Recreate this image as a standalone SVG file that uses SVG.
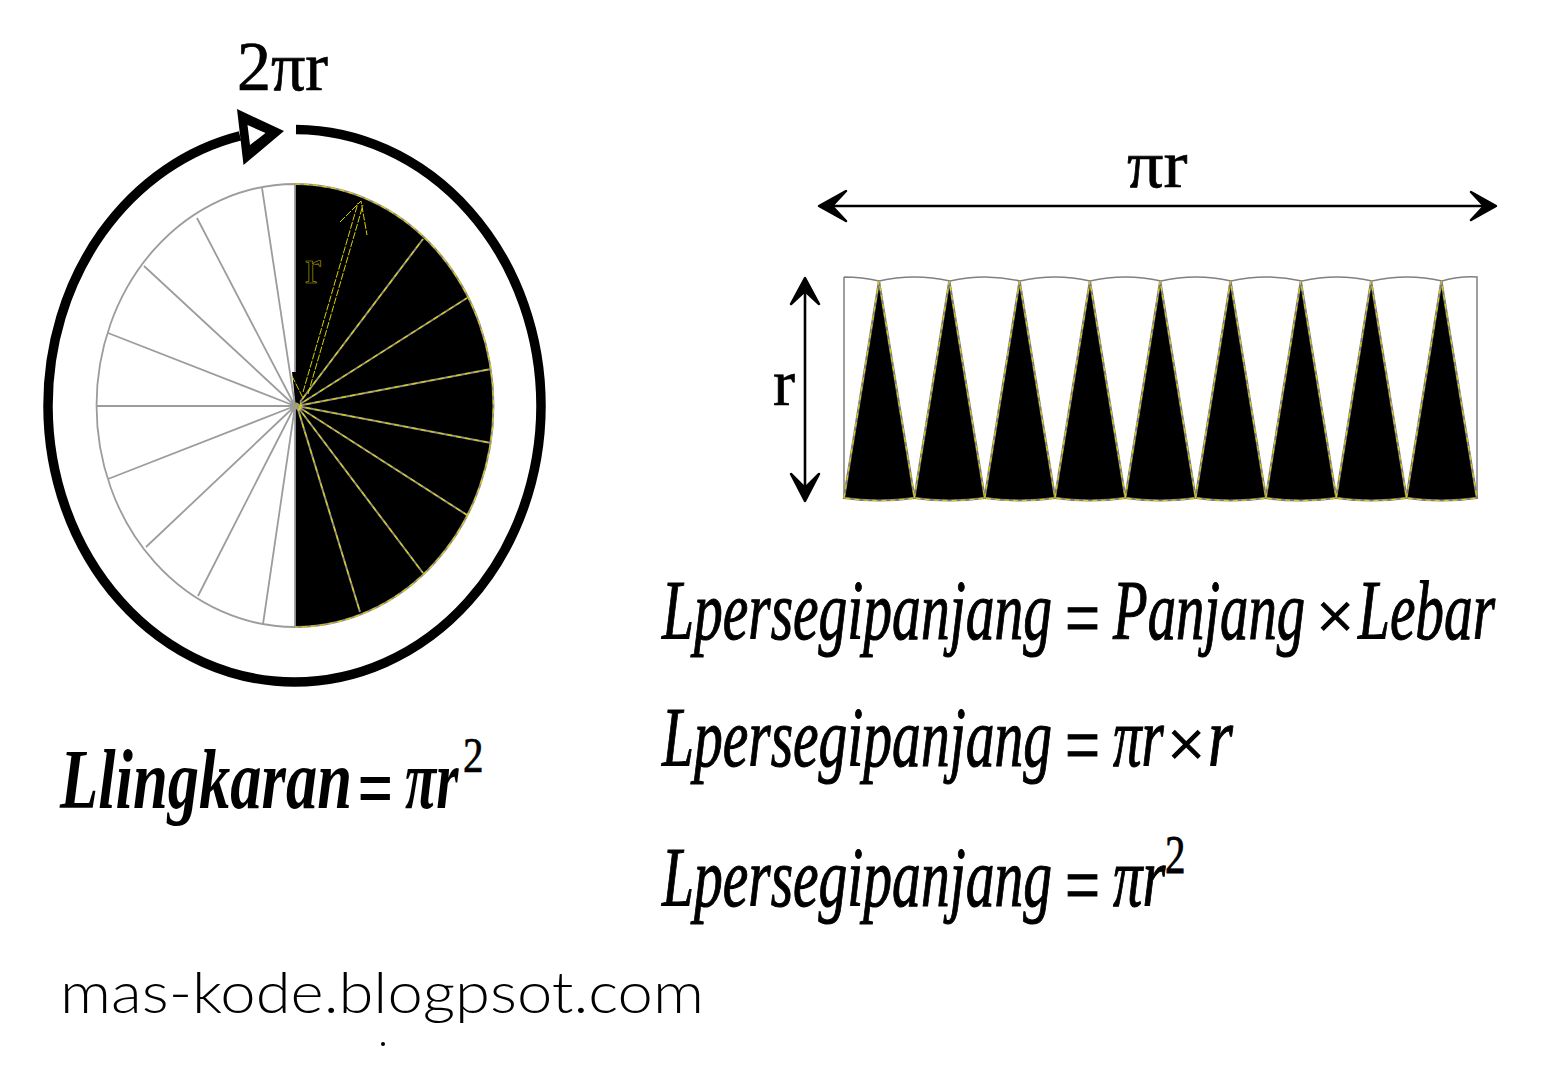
<svg xmlns="http://www.w3.org/2000/svg" width="1548" height="1068" viewBox="0 0 1548 1068">
<style>
text{font-family:"Liberation Serif","Times New Roman",serif;fill:#000}
.f{font-style:italic;font-size:84px;stroke:#000;stroke-width:1.1px}
.b{font-style:italic;font-weight:bold;font-size:84px}
.x{font-size:68px;stroke:#000;stroke-width:1.2px}
.n{font-size:68px;stroke:#000;stroke-width:.7px}
.u{font-size:50px;stroke:#000;stroke-width:.7px}
.s{fill:none;stroke:#9c9c9c;stroke-width:1.8}
.g{fill:none;stroke:#909080;stroke-width:2}
.y{fill:none;stroke:#e0d000;stroke-width:1.2;stroke-dasharray:5 4}
.t{stroke:#7c7c7c;stroke-width:2.2}
.c{fill:none;stroke:#000;stroke-width:2.600}
.h{fill:#000;stroke:#000;stroke-width:2.500;stroke-linejoin:round}
</style>
<defs>
<path id="wedge" d="M844 498L879 281L914.500 498Q879 503 844 498Z"/>
<g id="tri">
<use href="#wedge" fill="#000" class="t"/>
<use href="#wedge" fill="none" class="y"/>
</g>
</defs>
<rect width="1548" height="1068" fill="#fff"/>
<g id="circle">
<path d="M295 184A198 221 0 0 1 295 627Z" fill="#000"/>
<path d="M295 184A198 221 0 0 0 295 627M295 184V627" class="s"/>
<path class="s" d="M295 406L262 188M295 406L197 218M295 406L144 266M295 406L108 333M295 406L97 406M295 406L108 479M295 406L146 547M295 406L198 596M295 406L263 624"/>
<path class="g" d="M295 184A198 221 0 0 1 295 627M297 406L423 239M297 406L467 298M297 406L491 369M297 406L491 443M297 406L467 515M297 406L423 573M297 406L360 612"/>
<path class="y" d="M295 184A198 221 0 0 1 295 627M297 406L423 239M297 406L467 298M297 406L491 369M297 406L491 443M297 406L467 515M297 406L423 573M297 406L360 612"/>
<path d="M292 372L296 372L300 404L296 407Z" fill="#000"/>
<circle cx="296" cy="406" r="3.500" fill="#a0a080"/>
<path d="M303 392L358 203M308 394L363 205M340 222L361 201L367 235M292 376L303 398" fill="none" stroke="#d8d000" stroke-width="1" stroke-dasharray="7 1.500"/>
<text x="305" y="283" font-size="48" style="fill:#000;stroke:#b8a800;stroke-width:.6">r</text>
</g>
<g id="ring">
<path d="M296 129.500A246.500 276.500 0 0 1 541 406A246.500 276.500 0 0 1 294.500 682A246.500 276.500 0 0 1 48 406A246.500 276.500 0 0 1 240 135.800" fill="none" stroke="#000" stroke-width="9.500"/>
<path fill-rule="evenodd" d="M237 109L284 131L243.500 165ZM247.500 125L250 145L265.500 133Z" fill="#000"/>
<text class="n" transform="translate(237 90) scale(1 1.02)">2πr</text>
</g>
<g id="rectangle">
<path d="M844 277Q862 277 879 281Q914 273 950 281Q985 273 1020 281Q1055 273 1090 281Q1125 273 1161 281Q1196 273 1231 281Q1266 273 1302 281Q1337 273 1372 281Q1407 273 1442 281Q1460 276 1477 277V498M844 277V498" fill="none" stroke="#808080" stroke-width="1.500"/>
<use href="#tri"/>
<use href="#tri" x="70.300"/>
<use href="#tri" x="140.600"/>
<use href="#tri" x="210.900"/>
<use href="#tri" x="281.200"/>
<use href="#tri" x="351.500"/>
<use href="#tri" x="421.800"/>
<use href="#tri" x="492.100"/>
<use href="#tri" x="562.400"/>
<text x="773" y="405" font-size="66" style="stroke:#000;stroke-width:.7">r</text>
</g>
<g id="connectors">
<path class="c" d="M825 206H1490M805 285V495"/>
<path class="h" d="M819 206L846 191L832 206L846 221ZM1496 206L1471 192L1484 206L1471 220ZM805 278L791 304L805 291L819 304ZM805 501L791 474L805 488L819 474Z"/>
<text class="n" transform="translate(1127 187) scale(1.06 1)">πr</text>
</g>
<g id="formula-circle">
<text class="b" transform="translate(60 808) scale(.745 1)">Llingkaran</text>
<text class="b" transform="translate(357 817) scale(.75 1)">=</text>
<text class="b" transform="translate(405 808) scale(.68 1)">πr</text>
<text class="u" transform="translate(463 772) scale(.82 1)">2</text>
</g>
<g id="formula-1">
<text class="f" transform="translate(662 639) scale(.685 1)">Lpersegipanjang</text>
<text class="f" transform="translate(1061 647) scale(.74 1)">=</text>
<text class="f" transform="translate(1113 639) scale(.675 1)">Panjang</text>
<text class="x" x="1316" y="639">×</text>
<text class="f" transform="translate(1358 639) scale(.683 1)">Lebar</text>
</g>
<g id="formula-2">
<text class="f" transform="translate(662 766) scale(.685 1)">Lpersegipanjang</text>
<text class="f" transform="translate(1061 774) scale(.74 1)">=</text>
<text class="f" transform="translate(1113 766) scale(.68 1)">πr</text>
<text class="x" x="1167" y="767">×</text>
<text class="f" transform="translate(1208 766) scale(.76 1)">r</text>
</g>
<g id="formula-3">
<text class="f" transform="translate(662 906) scale(.685 1)">Lpersegipanjang</text>
<text class="f" transform="translate(1061 914) scale(.74 1)">=</text>
<text class="f" transform="translate(1113 906) scale(.7 1)">πr</text>
<text class="u" transform="translate(1165 873) scale(.82 1.1)">2</text>
</g>
<g id="credit">
<text x="60" y="1013" font-size="58" textLength="644" lengthAdjust="spacingAndGlyphs" style="font-family:'Lato','Open Sans',sans-serif;font-weight:300">mas-kode.blogpsot.com</text>
<circle cx="383" cy="1044" r="2" fill="#000"/>
</g>
</svg>
